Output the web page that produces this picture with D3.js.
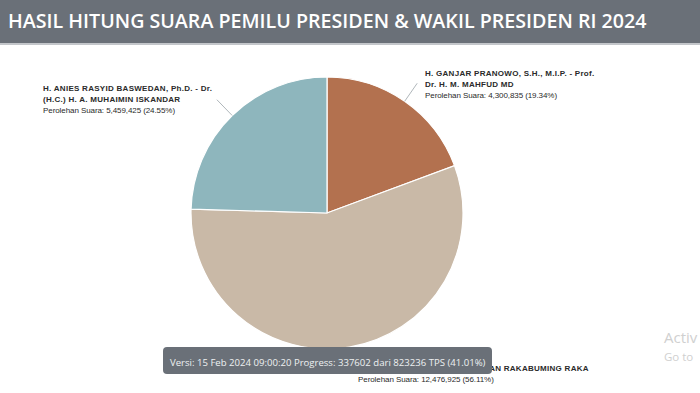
<!DOCTYPE html>
<html><head><meta charset="utf-8">
<script src="https://cdn.jsdelivr.net/npm/d3@7"></script>
<style>body{margin:0;background:#fff;overflow:hidden}svg{display:block}</style>
</head><body>
<svg id="c" width="700" height="393"></svg>
<script>
const title = "HASIL HITUNG SUARA PEMILU PRESIDEN & WAKIL PRESIDEN RI 2024";
const candidates = [
  ["H. GANJAR PRANOWO, S.H., M.I.P. - Prof.", "Dr. H. M. MAHFUD MD"],
  ["H. PRABOWO SUBIANTO - GIBRAN RAKABUMING RAKA"],
  ["H. ANIES RASYID BASWEDAN, Ph.D. - Dr.", "(H.C.) H. A. MUHAIMIN ISKANDAR"]
];
const votes = [4300835, 12476925, 5459425];
const voteLabels = ["4,300,835", "12,476,925", "5,459,425"];
const percents = ["19.34%", "56.11%", "24.55%"];
const colors = ["#b3714f", "#c9b9a7", "#8eb6bd"];
const tooltipText = "Versi: 15 Feb 2024 09:00:20 Progress: 337602 dari 823236 TPS (41.01%)";

const svg = d3.select("#c");
function fitSize(t, w){
  const fs = +t.attr("font-size");
  const len = t.node().getComputedTextLength();
  t.attr("font-size", fs * w / len);
}
svg.append("rect").attr("x",0).attr("y",0).attr("width",700).attr("height",43).attr("fill","#6a7078");
svg.append("rect").attr("x",0).attr("y",43).attr("width",700).attr("height",2).attr("fill","#c3c6ca");
const tt = svg.append("text").attr("x",8).attr("y",28).attr("fill","#fff")
  .attr("font-family","Open Sans").attr("font-weight",600).attr("font-size",19.5)
  .text(title);
fitSize(tt, 639);

const cx = 327, cy = 213, R = 136;
const pie = d3.pie().sort(null).value(d=>d)(votes);
const arc = d3.arc().innerRadius(0).outerRadius(R);
const g = svg.append("g").attr("transform",`translate(${cx},${cy})`);
g.selectAll("path").data(pie).join("path")
  .attr("d",arc).attr("fill",(d,i)=>colors[i]).attr("stroke","#fff").attr("stroke-width",1.2);

// leader lines
const pt = (a,r)=>[Math.sin(a)*r, -Math.cos(a)*r];
pie.forEach((d,i)=>{
  const a=(d.startAngle+d.endAngle)/2;
  const p1=pt(a,R), p2=pt(a,158);
  g.append("line").attr("x1",p1[0]).attr("y1",p1[1]).attr("x2",p2[0]).attr("y2",p2[1])
   .attr("stroke","#9aa3a8").attr("stroke-width",0.8);
});

// labels
const labelPos = [[425,76],[358,371],[43,91]];
const lineH = 11;
candidates.forEach((lines,i)=>{
  const t = svg.append("text").attr("x",labelPos[i][0]).attr("y",labelPos[i][1])
    .attr("font-family","Liberation Sans, Arial").attr("font-size",8).attr("fill","#2a2a2a");
  lines.forEach((l,j)=>{
    t.append("tspan").attr("x",labelPos[i][0]).attr("dy", j===0?0:lineH)
     .attr("font-weight","bold").attr("letter-spacing",0.28).text(l);
  });
  t.append("tspan").attr("x",labelPos[i][0]).attr("dy",lineH).attr("letter-spacing",-0.08)
   .text(`Perolehan Suara: ${voteLabels[i]} (${percents[i]})`);
});
// tooltip
svg.append("rect").attr("x",163).attr("y",347).attr("width",329).attr("height",27).attr("rx",4)
  .attr("fill","#6a7078");
const tp = svg.append("text").attr("x",170).attr("y",366).attr("fill","#eef0f2")
  .attr("font-family","Open Sans").attr("font-size",11).text(tooltipText);
fitSize(tp, 316);

// watermark
svg.append("text").attr("x",664).attr("y",343).attr("fill","#d0d0d0").attr("font-family","Open Sans").attr("font-size",15).text("Activ");
svg.append("text").attr("x",664).attr("y",361).attr("fill","#d0d0d0").attr("font-family","Open Sans").attr("font-size",11.5).text("Go to");
</script>
</body></html>
